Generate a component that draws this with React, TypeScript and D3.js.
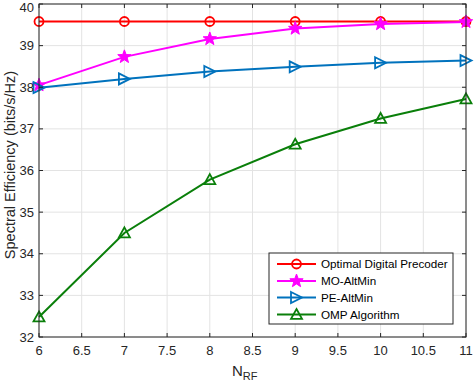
import React from "react";
import * as d3 from "d3";

const nrf = [6, 7, 8, 9, 10, 11];
const optimal = [39.58, 39.58, 39.58, 39.58, 39.58, 39.58];
const moAltMin = [38.05, 38.73, 39.16, 39.41, 39.52, 39.57];
const peAltMin = [37.99, 38.2, 38.38, 38.49, 38.59, 38.64];
const omp = [32.48, 34.5, 35.78, 36.63, 37.25, 37.72];
const xTicks = [6, 6.5, 7, 7.5, 8, 8.5, 9, 9.5, 10, 10.5, 11];
const yTicks = [32, 33, 34, 35, 36, 37, 38, 39, 40];
const seriesNames = ["Optimal Digital Precoder", "MO-AltMin", "PE-AltMin", "OMP Algorithm"];

const W = 474, H = 383;
const L = 39, R = 466, T = 4, B = 337;

const x = d3.scaleLinear().domain([6, 11]).range([L, R]);
const y = d3.scaleLinear().domain([32, 40]).range([B, T]);

type Series = { name: string; values: number[]; color: string; marker: string };
const series: Series[] = [
  { name: seriesNames[0], values: optimal, color: "#FF0000", marker: "circle" },
  { name: seriesNames[1], values: moAltMin, color: "#FF00FF", marker: "star" },
  { name: seriesNames[2], values: peAltMin, color: "#0072BD", marker: "tri-right" },
  { name: seriesNames[3], values: omp, color: "#0A7F0A", marker: "tri-up" },
];

function Marker({ kind, cx, cy, color }: { kind: string; cx: number; cy: number; color: string }) {
  if (kind === "circle") {
    return <circle cx={cx} cy={cy} r={4.5} fill="none" stroke={color} strokeWidth={1.8} />;
  }
  if (kind === "star") {
    const pts: string[] = [];
    for (let i = 0; i < 10; i++) {
      const a = -Math.PI / 2 + (i * Math.PI) / 5;
      const r = i % 2 === 0 ? 7 : 2.9;
      pts.push(`${cx + r * Math.cos(a)},${cy + r * Math.sin(a)}`);
    }
    return <polygon points={pts.join(" ")} fill={color} stroke={color} strokeWidth={1} />;
  }
  if (kind === "tri-right") {
    const s = 5.5;
    return (
      <polygon
        points={`${cx - s},${cy - s} ${cx + s},${cy} ${cx - s},${cy + s}`}
        fill="none"
        stroke={color}
        strokeWidth={1.8}
      />
    );
  }
  const s = 5.5;
  return (
    <polygon
      points={`${cx},${cy - s} ${cx + s},${cy + s * 0.8} ${cx - s},${cy + s * 0.8}`}
      fill="none"
      stroke={color}
      strokeWidth={1.8}
    />
  );
}

export default function App() {
  const line = d3
    .line<number>()
    .x((_, i) => x(nrf[i]))
    .y((d) => y(d));
  const font = "Arial, 'Liberation Sans', Helvetica, sans-serif";
  const axisColor = "#262626";
  const legX = 269, legY = 253, legW = 184, legH = 71;
  const rowY = [264, 281, 297.5, 314.5];
  return (
    <svg
      width={W}
      height={H}
      style={{ position: "absolute", left: 0, top: 0, background: "#fff" }}
      fontFamily={font}
    >
      <rect x={0} y={0} width={W} height={H} fill="#fff" />
      {/* grid */}
      {xTicks.map((t) => (
        <line key={"gx" + t} x1={x(t)} x2={x(t)} y1={T} y2={B} stroke="#e3e3e3" strokeWidth={1} />
      ))}
      {yTicks.map((t) => (
        <line key={"gy" + t} x1={L} x2={R} y1={y(t)} y2={y(t)} stroke="#e3e3e3" strokeWidth={1} />
      ))}
      {/* series */}
      {series.map((s) => (
        <g key={s.name}>
          <path d={line(s.values) || ""} fill="none" stroke={s.color} strokeWidth={2} />
          {s.values.map((v, i) => (
            <Marker key={i} kind={s.marker} cx={x(nrf[i])} cy={y(v)} color={s.color} />
          ))}
        </g>
      ))}
      {/* axes box */}
      <rect x={L} y={T} width={R - L} height={B - T} fill="none" stroke={axisColor} strokeWidth={1} />
      {xTicks.map((t) => (
        <g key={"tx" + t}>
          <line x1={x(t)} x2={x(t)} y1={B} y2={B - 4} stroke={axisColor} />
          <line x1={x(t)} x2={x(t)} y1={T} y2={T + 4} stroke={axisColor} />
          <text x={x(t)} y={B + 18} textAnchor="middle" fontSize={13} fill={axisColor}>
            {t}
          </text>
        </g>
      ))}
      {yTicks.map((t) => (
        <g key={"ty" + t}>
          <line x1={L} x2={L + 4} y1={y(t)} y2={y(t)} stroke={axisColor} />
          <line x1={R} x2={R - 4} y1={y(t)} y2={y(t)} stroke={axisColor} />
          <text x={L - 5} y={Math.max(y(t) + 4.5, 11.5)} textAnchor="end" fontSize={13} fill={axisColor}>
            {t}
          </text>
        </g>
      ))}
      {/* labels */}
      <text
        transform={`translate(15, 165) rotate(-90)`}
        textAnchor="middle"
        fontSize={14.5}
        fill={axisColor}
      >
        Spectral Efficiency (bits/s/Hz)
      </text>
      <text x={232} y={376} fontSize={15} fill={axisColor}>
        N<tspan fontSize={11} dy={4}>RF</tspan>
      </text>
      {/* legend */}
      <rect x={legX} y={legY} width={legW} height={legH} fill="#fff" stroke={axisColor} strokeWidth={1} />
      {series.map((s, i) => (
        <g key={"leg" + s.name}>
          <line x1={277} x2={316} y1={rowY[i]} y2={rowY[i]} stroke={s.color} strokeWidth={2} />
          <Marker kind={s.marker} cx={296.5} cy={rowY[i]} color={s.color} />
          <text x={321} y={rowY[i] + 4.2} fontSize={11.7} fill="#000">
            {s.name}
          </text>
        </g>
      ))}
    </svg>
  );
}
